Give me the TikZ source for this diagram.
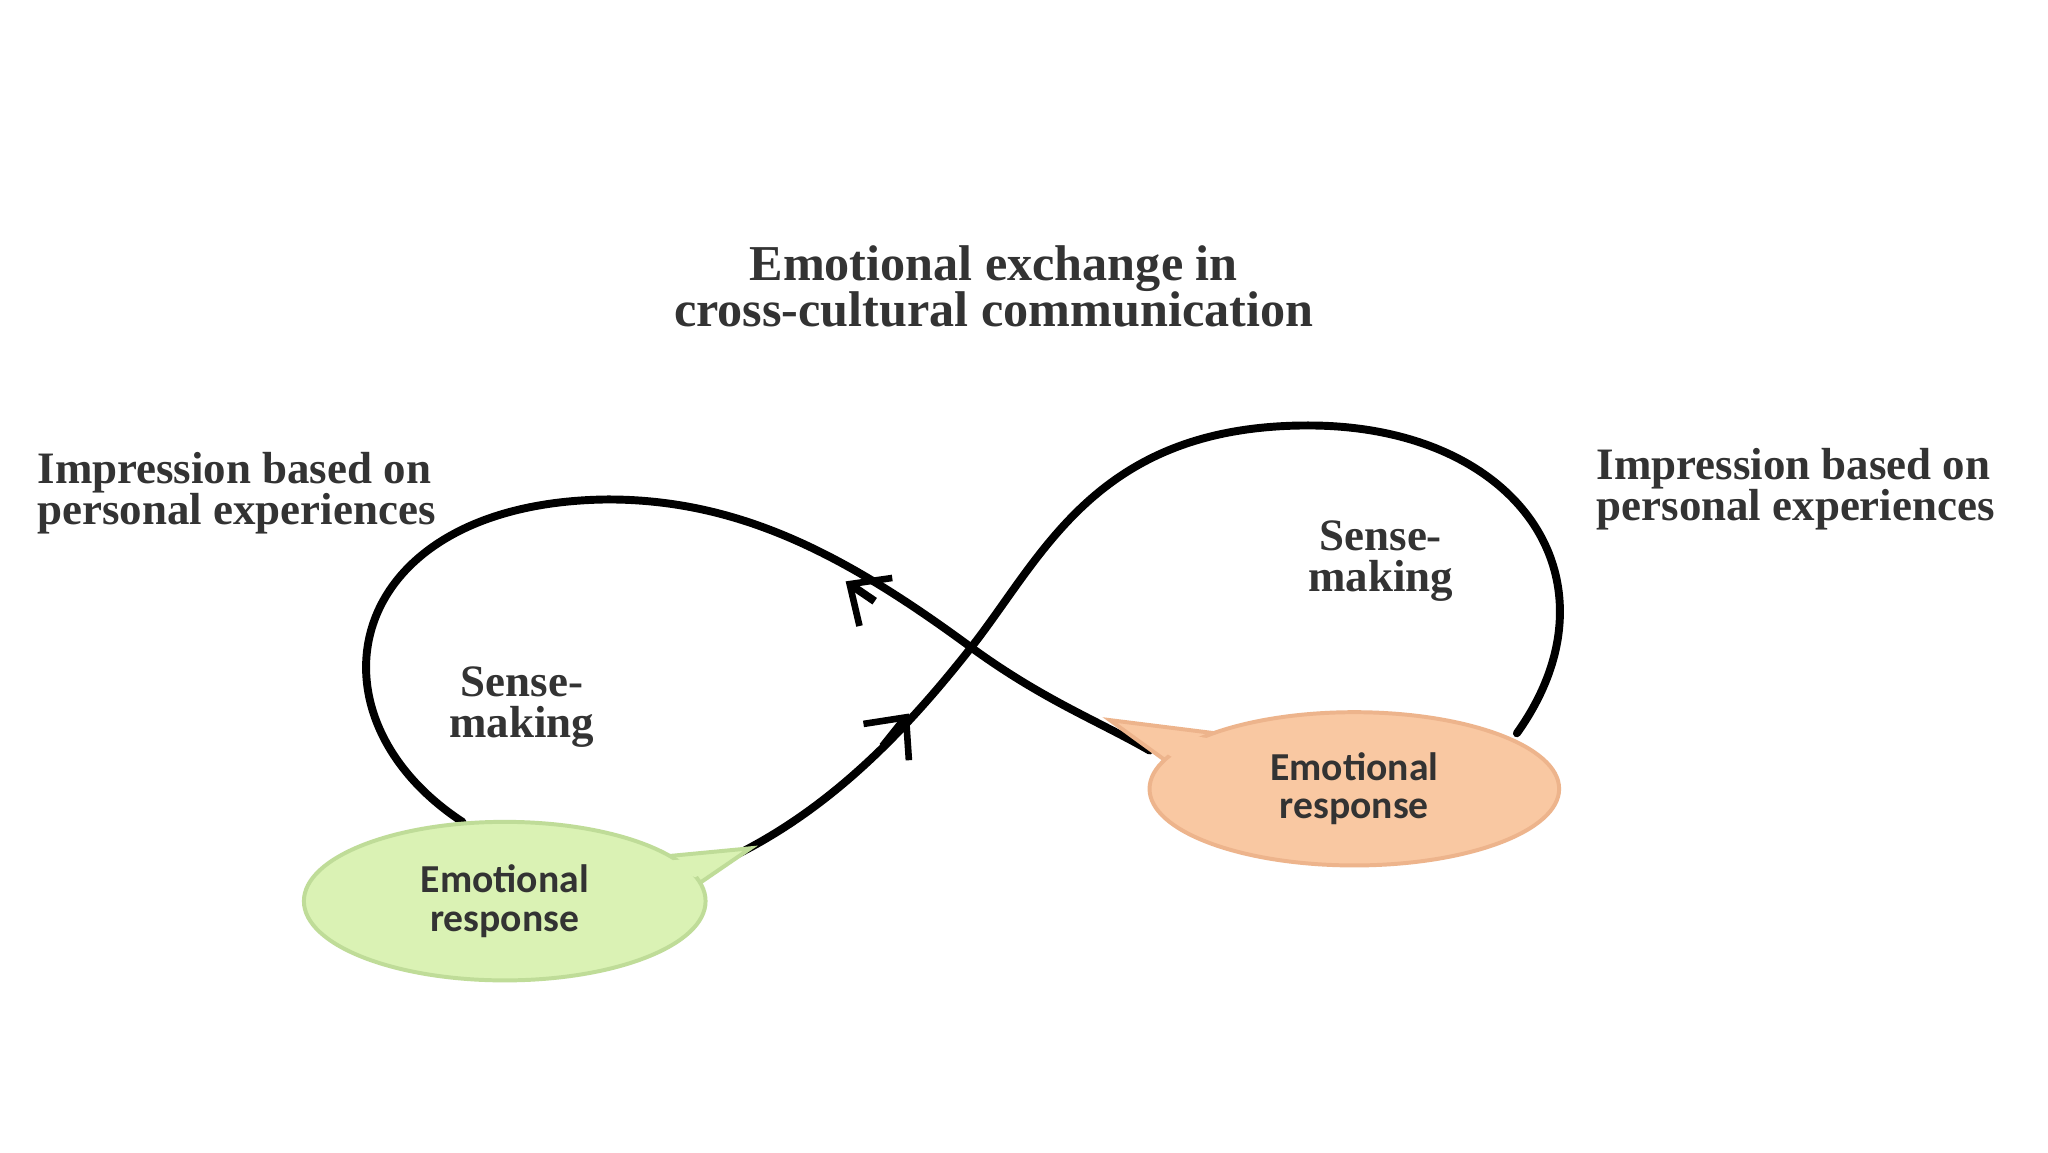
\documentclass[tikz,border=0pt]{standalone}
\usepackage{fontspec}
\setmainfont{Liberation Serif}
\newfontfamily\bubfont{Carlito}
\usetikzlibrary{arrows.meta,decorations.markings,shapes.geometric}
\definecolor{txt}{HTML}{333333}
\definecolor{gfill}{HTML}{DAF2B4}
\definecolor{gline}{HTML}{BFDC98}
\definecolor{ofill}{HTML}{F9C8A2}
\definecolor{oline}{HTML}{EDB48C}
\begin{document}
\begin{tikzpicture}[x=0.5pt,y=-0.5pt,
  lab/.style={text=txt,font=\fontsize{17}{15.5}\selectfont\bfseries,align=left,inner sep=0},
  sm/.style={text=txt,font=\fontsize{17}{15.5}\selectfont\bfseries,align=center,inner sep=0},
  bub/.style={ellipse,line width=1.5pt,inner sep=0,font=\bubfont\fontsize{15}{14.5}\selectfont\bfseries,text=txt,align=center},
  loop/.style={line width=3pt,line cap=round},
  tip/.style={-{Straight Barb[length=12pt,width=22pt,line width=2.5pt]}}]
\useasboundingbox (0,0) rectangle (1550,872);
\fill[white] (0,0) rectangle (1550,872);
\node[text=txt,font=\fontsize{19}{17.5}\selectfont\bfseries,align=center] (title) at (752,217) {Emotional exchange in\\cross-cultural communication};
\node[lab,anchor=west] (impL) at (28,373) {Impression based on\\personal experiences};
\node[lab,anchor=west] (impR) at (1208,370) {Impression based on\\personal experiences};
\node[sm] (smL) at (395,535) {Sense-\\making};
\node[sm] (smR) at (1045,425) {Sense-\\making};
% loops
\draw[loop] (350,622) .. controls (225,540) and (260,380) .. (460,378) .. controls (560,378) and (640,420) .. (735,490) .. controls (790,530) and (830,545) .. (870,568);
\draw[loop] (540,655) .. controls (620,620) and (680,560) .. (735,490) .. controls (790,420) and (830,322) .. (990,322) .. controls (1150,322) and (1230,440) .. (1148,555);
\coordinate (a1s) at (662,455); \coordinate (a1e) at (640,440);
\draw[tip,line width=3pt] (a1s) -- (a1e);
\coordinate (a2s) at (668,565); \coordinate (a2e) at (688,540);
\draw[tip,line width=3pt] (a2s) -- (a2e);
% bubbles
\fill[gfill,draw=gline,line width=1.5pt] (505,648) -- (568,642) -- (530,668) -- cycle;
\node[bub,fill=gfill,draw=gline,minimum width=152pt,minimum height=60pt] (gr) at (382,682) {Emotional\\response};
\fill[gfill] (502,652) -- (560,645) -- (526,664) -- cycle;
\fill[ofill,draw=oline,line width=1.5pt] (920,555) -- (840,545) -- (895,585) -- cycle;
\node[bub,fill=ofill,draw=oline,minimum width=155pt,minimum height=58pt] (or) at (1025,597) {Emotional\\response};
\fill[ofill] (923,560) -- (850,549) -- (898,580) -- cycle;
\end{tikzpicture}
\end{document}
